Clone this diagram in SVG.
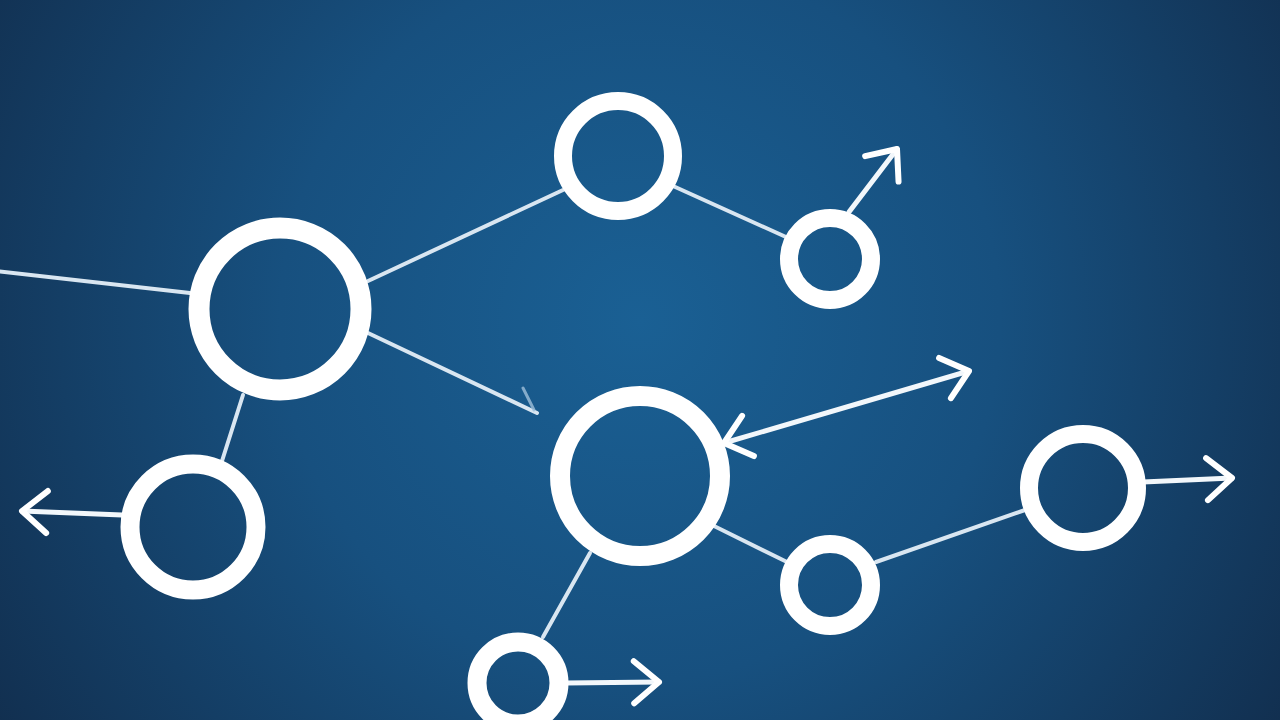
<svg xmlns="http://www.w3.org/2000/svg" width="1280" height="720" viewBox="0 0 1280 720">
  <defs>
    <radialGradient id="bg" cx="640" cy="320" r="800" gradientUnits="userSpaceOnUse">
      <stop offset="0" stop-color="#1a6094"/>
      <stop offset="0.45" stop-color="#17507f"/>
      <stop offset="1" stop-color="#112c4b"/>
    </radialGradient>
    <marker id="head" viewBox="-32 -26 36 52" markerWidth="36" markerHeight="52" refX="0" refY="0" orient="auto-start-reverse" markerUnits="userSpaceOnUse">
      <path d="M -25 -21 L 0 0 L -25 21" fill="none" stroke="#ffffff" stroke-width="6" stroke-linecap="round" stroke-linejoin="round"/>
    </marker>
    <style>
      .node { fill: none; stroke: #ffffff; }
      .link { stroke: #d9e6f1; stroke-width: 4; stroke-linecap: round; fill: none; }
      .arrow { stroke: #f2f7fb; stroke-width: 5; stroke-linecap: round; fill: none; }
    </style>
  </defs>
  <rect width="1280" height="720" fill="url(#bg)"/>

  <g id="connectors">
    <line class="link" x1="-5" y1="271" x2="190" y2="293"/>
    <line class="link" x1="368" y1="281" x2="563" y2="190"/>
    <line class="link" x1="673" y1="186" x2="786" y2="237"/>
    <line class="arrow" x1="849" y1="212" x2="897" y2="149" marker-end="url(#head)"/>
    <line class="link" x1="368" y1="333" x2="537" y2="413"/>
    <line x1="523" y1="388" x2="534" y2="410" stroke="#9fc0da" stroke-width="3" stroke-linecap="round" opacity="0.8"/>
    <line class="link" x1="243" y1="395" x2="222" y2="461"/>
    <line class="arrow" x1="122" y1="515" x2="22" y2="511" marker-end="url(#head)"/>
    <line class="arrow" x1="724" y1="443" x2="969" y2="371" marker-start="url(#head)" marker-end="url(#head)"/>
    <line class="link" x1="712" y1="525" x2="787" y2="562"/>
    <line class="link" x1="876" y1="562" x2="1025" y2="510"/>
    <line class="arrow" x1="1143" y1="482" x2="1232" y2="478" marker-end="url(#head)"/>
    <line class="link" x1="590" y1="553" x2="543" y2="637"/>
    <line class="arrow" x1="566" y1="683" x2="659" y2="682" marker-end="url(#head)"/>
  </g>

  <g id="node-hub-left"><circle class="node" cx="280" cy="309" r="81" stroke-width="21"/></g>
  <g id="node-top"><circle class="node" cx="618" cy="156" r="55" stroke-width="18"/></g>
  <g id="node-top-right"><circle class="node" cx="830" cy="259" r="41" stroke-width="18"/></g>
  <g id="node-hub-center"><circle class="node" cx="640" cy="476" r="80" stroke-width="20"/></g>
  <g id="node-bottom-left"><circle class="node" cx="193" cy="527" r="63" stroke-width="19"/></g>
  <g id="node-bottom-mid"><circle class="node" cx="830" cy="585" r="41" stroke-width="18"/></g>
  <g id="node-right"><circle class="node" cx="1083" cy="488" r="54" stroke-width="18"/></g>
  <g id="node-bottom"><circle class="node" cx="518" cy="683" r="41" stroke-width="19"/></g>
</svg>
